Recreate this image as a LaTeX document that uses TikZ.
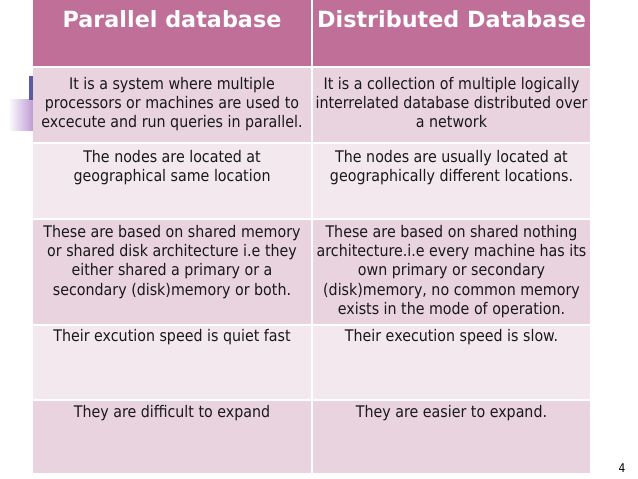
\documentclass[tikz,border=0pt]{standalone}
\usepackage{fontspec}
\setmainfont{DejaVu Sans}[FakeStretch=0.89]
\newfontfamily\headfont{DejaVu Sans}
\definecolor{headpink}{RGB}{192,112,152}
\definecolor{rowdark}{RGB}{233,211,222}
\definecolor{rowlight}{RGB}{243,232,238}
\definecolor{barblue}{RGB}{92,88,168}
\definecolor{glowpurple}{RGB}{190,155,212}
\tikzset{
  celltext/.style={anchor=north, align=center, inner sep=0pt, text=black!90,
    font=\fontsize{16bp}{19.3bp}\selectfont},
  headtext/.style={anchor=north, inner sep=0pt, text=white,
    font=\headfont\fontsize{22.3bp}{26bp}\selectfont\bfseries},
}
\begin{document}
\begin{tikzpicture}[x=1bp, y=-1bp]
		%%%%% START %%%%%
		\useasboundingbox (0,0) rectangle (638,479);
		
		% corner decoration behind the table
		\shade[left color=white, right color=glowpurple] (8,100) rectangle (33,131);
		\fill[barblue] (29,76) rectangle (33,100);
		
		% header
		\fill[headpink] (33,0) rectangle (311,66);
		\fill[headpink] (313,0) rectangle (590,66);
		
		% body rows
		\fill[rowdark] (33,68) rectangle (311,142);
		\fill[rowdark] (313,68) rectangle (590,142);
		\fill[rowlight] (33,144) rectangle (311,218);
		\fill[rowlight] (313,144) rectangle (590,218);
		\fill[rowdark] (33,220) rectangle (311,324);
		\fill[rowdark] (313,220) rectangle (590,324);
		\fill[rowlight] (33,326) rectangle (311,399);
		\fill[rowlight] (313,326) rectangle (590,399);
		\fill[rowdark] (33,401) rectangle (311,473);
		\fill[rowdark] (313,401) rectangle (590,473);
		
		\node[headtext] (parhead) at (172,10) {Parallel database};
		\node[headtext] (disthead) at (451.5,10) {Distributed Database};
		
		\node[celltext] (par1) at (172,77) {It is a system where multiple\\processors or machines are used to\\excecute and run queries in parallel.};
		\node[celltext] (dist1) at (451.5,77) {It is a collection of multiple logically\\interrelated database distributed over\\a network};
		
		\node[celltext] (par2) at (172,150) {The nodes are located at\\geographical same location};
		\node[celltext] (dist2) at (451.5,150) {The nodes are usually located at\\geographically different locations.};
		
		\node[celltext] (par3) at (172,225) {These are based on shared memory\\or shared disk architecture i.e they\\either shared a primary or a\\secondary (disk)memory or both.};
		\node[celltext] (dist3) at (451.5,225) {These are based on shared nothing\\architecture.i.e every machine has its\\own primary or secondary\\(disk)memory, no common memory\\exists in the mode of operation.};
		
		\node[celltext] (par4) at (172,329) {Their excution speed is quiet fast};
		\node[celltext] (dist4) at (451.5,329) {Their execution speed is slow.};
		
		\node[celltext] (par5) at (172,405) {They are difficult to expand};
		\node[celltext] (dist5) at (451.5,405) {They are easier to expand.};
		
		\node[font=\fontsize{12bp}{14bp}\selectfont] (pagenum) at (622,468) {4};
		%%%%% END %%%%%
\end{tikzpicture}
\end{document}
